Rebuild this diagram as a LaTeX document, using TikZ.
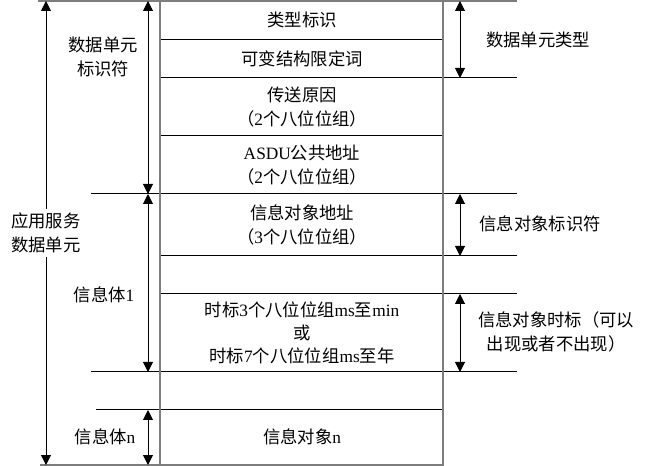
\documentclass[tikz,border=0pt]{standalone}
\usepackage{fontspec}
\setmainfont{Noto Sans CJK SC}
\newfontfamily\en{Liberation Serif}
\usetikzlibrary{arrows.meta,positioning}
\definecolor{framegray}{RGB}{125,125,125}
\tikzset{
  frame/.style={draw=framegray,line width=1.1pt},
  rule/.style={draw=black,line width=0.75pt},
  dimarrow/.style={{Triangle[length=7.5pt,width=7.5pt]}-{Triangle[length=7.5pt,width=7.5pt]},
                   line width=0.75pt},
  halfarrow/.style={-{Triangle[length=7.5pt,width=7.5pt]},line width=0.75pt},
  cell/.style={align=center,inner sep=0pt,
               font=\fontsize{13}{17.5}\selectfont},
  sidelabel/.style={cell},
}

\begin{document}
\begin{tikzpicture}[x=0.75pt,y=-0.75pt]
  \useasboundingbox (0,0) rectangle (646,466);

  % table rows
  \foreach \y in {40,136}{
    \draw[rule] (160,\y) -- (443,\y);
  }
  \foreach \y in {78,256,294}{
    \draw[rule] (160,\y) -- (517,\y);
  }
  \draw[rule] (91,194) -- (517,194);
  \draw[rule] (91,372) -- (517,372);
  \draw[rule] (96,410) -- (443,410);
  \draw[frame] (160,1) rectangle (443,465);
  \draw[frame] (38,1) -- (517,1);
  \draw[frame] (40,465) -- (443,465);

  % cell texts
  \node[cell] (typeid) at (302,20) {类型标识};
  \node[cell] (vsq) at (302,59) {可变结构限定词};
  \node[cell] (cot) at (302,107) {传送原因\\（{\en 2}个八位位组）};
  \node[cell] (caddr) at (302,165) {{\en ASDU}公共地址\\（{\en 2}个八位位组）};
  \node[cell] (ioaddr) at (302,225) {信息对象地址\\（{\en 3}个八位位组）};
  \node[cell] (timetag) at (302,333)
    {时标{\en 3}个八位位组{\en ms}至{\en min}\\或\\时标{\en 7}个八位位组{\en ms}至年};
  \node[cell] (ioobjn) at (302,437) {信息对象{\en n}};

  % arrow ends
  \coordinate (asdu top) at (46,1);
  \coordinate (asdu bot) at (46,465);
  \coordinate (duid top) at (148,1);
  \coordinate (duid bot) at (148,194);
  \coordinate (io1 top) at (148,194);
  \coordinate (io1 bot) at (148,372);
  \coordinate (ion top) at (148,410);
  \coordinate (ion bot) at (148,465);
  \coordinate (dut top) at (460,1);
  \coordinate (dut bot) at (460,78);
  \coordinate (ioid top) at (460,194);
  \coordinate (ioid bot) at (460,256);
  \coordinate (tag top) at (460,294);
  \coordinate (tag bot) at (460,372);

  % side labels
  \node[sidelabel,inner sep=3pt] (asdu) at (46,233) {应用服务\\数据单元};
  \node[sidelabel] (duid) at (103,57) {数据单元\\标识符};
  \node[sidelabel] (io1) at (104,295) {信息体{\en 1}};
  \node[sidelabel] (ion) at (105,437) {信息体{\en n}};
  \node[sidelabel] (dut) at (538,40) {数据单元类型};
  \node[sidelabel] (ioid) at (540,224) {信息对象标识符};
  \node[sidelabel] (tag) at (556,332) {信息对象时标（可以\\出现或者不出现）};

  % dimension arrows
  \draw[halfarrow] (asdu.north) -- (asdu top);
  \draw[halfarrow] (asdu.south) -- (asdu bot);
  \draw[dimarrow] (duid top) -- (duid bot);
  \draw[dimarrow] (io1 top) -- (io1 bot);
  \draw[dimarrow] (ion top) -- (ion bot);
  \draw[dimarrow] (dut top) -- (dut bot);
  \draw[dimarrow] (ioid top) -- (ioid bot);
  \draw[dimarrow] (tag top) -- (tag bot);
\end{tikzpicture}
\end{document}
